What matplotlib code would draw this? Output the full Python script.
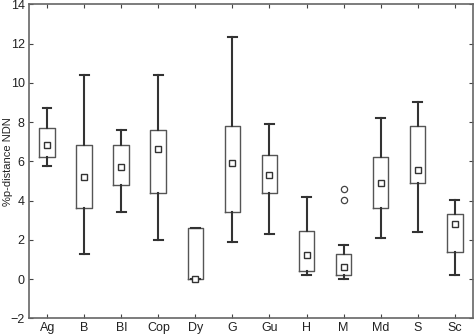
import matplotlib
matplotlib.use('Agg')
import matplotlib.pyplot as plt

plt.rcParams['font.family'] = ['Liberation Sans', 'DejaVu Sans']

groups = ['Ag', 'B', 'Bl', 'Cop', 'Dy', 'G', 'Gu', 'H', 'M', 'Md', 'S', 'Sc']
whisk_lo = [5.75, 1.3, 3.4, 2.0, 0.0, 1.9, 2.3, 0.2, 0.0, 2.1, 2.4, 0.2]
q1 = [6.24, 3.62, 4.8, 4.4, 0.0, 3.4, 4.4, 0.39, 0.2, 3.62, 4.91, 1.39]
med = [6.82, 5.2, 5.73, 6.63, 0.0, 5.93, 5.3, 1.21, 0.6, 4.91, 5.56, 2.82]
q3 = [7.72, 6.82, 6.82, 7.62, 2.62, 7.82, 6.33, 2.45, 1.29, 6.24, 7.8, 3.32]
whisk_hi = [8.72, 10.4, 7.62, 10.4, 2.62, 12.33, 7.9, 4.2, 1.72, 8.23, 9.03, 4.03]
outliers = {'M': [4.03, 4.6]}

stats = []
for i, g in enumerate(groups):
    stats.append({'label': g, 'whislo': whisk_lo[i], 'q1': q1[i], 'med': med[i],
                  'q3': q3[i], 'whishi': whisk_hi[i], 'fliers': outliers.get(g, [])})

fig = plt.figure(figsize=(4.74, 3.35), dpi=100)
ax = fig.add_axes([0.061, 0.05, 0.937, 0.937])

pos = list(range(len(groups)))
ax.bxp(stats, positions=pos, widths=0.43, showmeans=False,
       boxprops=dict(color='#555555', linewidth=1.0),
       whiskerprops=dict(color='#333333', linewidth=1.5),
       capprops=dict(color='#333333', linewidth=1.5),
       medianprops=dict(linestyle='none'),
       flierprops=dict(marker='o', markerfacecolor='white', markeredgecolor='#444444',
                       markersize=4.5, markeredgewidth=0.9),
       capwidths=0.22)
# median marker: small open square
ax.plot(pos, med, linestyle='none', marker='s', markersize=5,
        markerfacecolor='white', markeredgecolor='#333333', markeredgewidth=1.0, zorder=5)

ax.set_xlim(-0.5, 11.5)
ax.set_ylim(-2, 14)
ax.set_yticks(range(-2, 15, 2))
ax.set_xticks(pos)
ax.set_xticklabels(groups)
ax.tick_params(direction='in', top=True, right=True, length=3, width=0.8,
               color='#444444', labelsize=9, labelcolor='#222222', pad=3)
for s in ax.spines.values():
    s.set_color('#666666')
    s.set_linewidth(1.2)
ax.set_ylabel('%p-distance NDN', fontsize=8, color='#222222')
ax.yaxis.set_label_coords(-0.036, 0.5)

fig.savefig('out.png', dpi=100)
